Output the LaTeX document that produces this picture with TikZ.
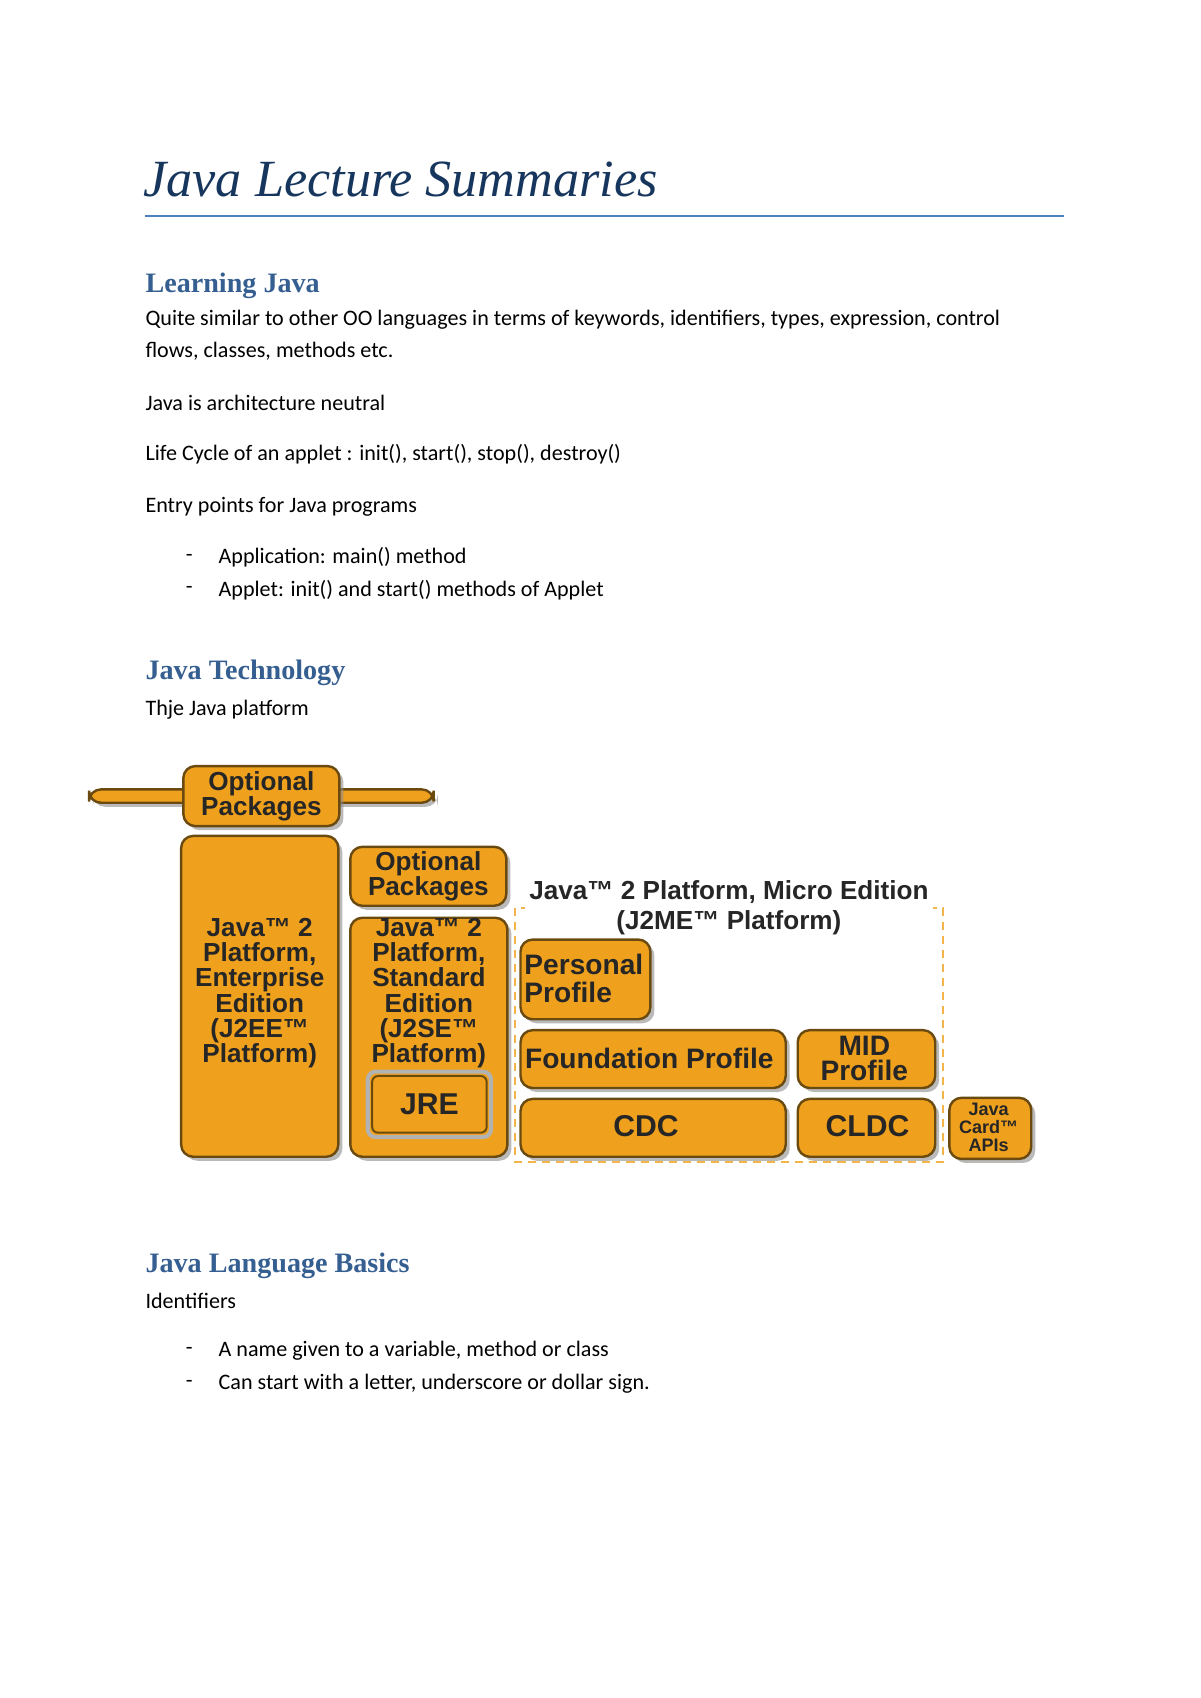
\documentclass[tikz,border=0pt]{standalone}
\usepackage{fontspec}
\setmainfont{Carlito}
\newfontfamily\headf{Liberation Serif}
\newfontfamily\diaf{Liberation Sans}
\usetikzlibrary{shadows}
\definecolor{titleblue}{HTML}{17365D}
\definecolor{headblue}{HTML}{365F91}
\definecolor{ruleblue}{HTML}{4F81BD}
\definecolor{jorange}{HTML}{EFA11E}
\definecolor{jborder}{HTML}{6B4A10}
\tikzset{
 body/.style={anchor=west,inner sep=0pt,font=\fontsize{11}{13}\selectfont},
 head/.style={anchor=west,inner sep=0pt,font=\headf\bfseries\fontsize{14}{16}\selectfont,text=headblue},
 jbox/.style={draw=jborder,line width=1.2pt,fill=jorange,rounded corners=6pt,
   drop shadow={shadow xshift=2pt,shadow yshift=-2pt,fill=black!45,opacity=0.6},
   font=\diaf\bfseries\fontsize{13}{12.5}\selectfont,align=center,text=black!85}
}
\begin{document}
\begin{tikzpicture}[x=0.019091cm,y=-0.019091cm]
\useasboundingbox (0,0) rectangle (1100,1556);
\fill[white] (0,0) rectangle (1100,1556);
\node[anchor=base west,inner sep=0pt,font=\headf\itshape\fontsize{26}{30}\selectfont,text=titleblue] (title) at (131,180) {Java Lecture Summaries};
\draw[ruleblue,line width=1pt] (133,198) -- (975,198);
\node[head] (h1) at (133,262) {Learning Java};
\node[body] (t1) at (133,293) {Quite similar to other OO languages in terms of keywords, identifiers, types, expression, control};
\node[body] (t2) at (133,322) {flows, classes, methods etc.};
\node[body] (t3) at (133,369) {Java is architecture neutral};
\node[body] (t4) at (133,416) {Life Cycle of an applet : init(), start(), stop(), destroy()};
\node[body] (t5) at (133,464) {Entry points for Java programs};
\node[body] (d1) at (170,511) {-};
\node[body] (t6) at (200,511) {Application: main() method};
\node[body] (d2) at (170,541) {-};
\node[body] (t7) at (200,541) {Applet: init() and start() methods of Applet};
\node[head] (h2) at (133,617) {Java Technology};
\node[body] (t8) at (133,650) {Thje Java platform};
\node[head] (h3) at (133,1160) {Java Language Basics};
\node[body] (t9) at (133,1192) {Identifiers};
\node[body] (d3) at (170,1238) {-};
\node[body] (t10) at (200,1238) {A name given to a variable, method or class};
\node[body] (d4) at (170,1268) {-};
\node[body] (t11) at (200,1268) {Can start with a letter, underscore or dollar sign.};
% diagram
\draw[jorange!80,dashed,line width=1pt,dash pattern=on 4pt off 3pt] (472,832) rectangle (864,1065);
\node[fill=white,inner sep=2pt,font=\diaf\bfseries\fontsize{13}{15}\selectfont,align=center,text=black!85] (me) at (668,832) {Java™ 2 Platform, Micro Edition\\(J2ME™ Platform)};
\node[jbox,minimum width=143\pgflinewidth] (op1) at (239.5,729.5) {};
\path[jbox] (168,702) rectangle (311,757);
\node[font=\diaf\bfseries\fontsize{13}{12.5}\selectfont,align=center,text=black!85] (op1t) at (239.5,729.5) {Optional\\Packages};
\path[jbox] (166,766) rectangle (310,1060);
\node[font=\diaf\bfseries\fontsize{13}{12.5}\selectfont,align=center,text=black!85] (ee) at (238,910) {Java™ 2\\Platform,\\Enterprise\\Edition\\(J2EE™\\Platform)};
\path[jbox] (321,776) rectangle (464,830);
\node[font=\diaf\bfseries\fontsize{13}{12.5}\selectfont,align=center,text=black!85] (op2) at (392.5,803) {Optional\\Packages};
\path[jbox] (321,841) rectangle (465,1060);
\node[font=\diaf\bfseries\fontsize{13}{12.5}\selectfont,align=center,text=black!85] (se) at (393,910) {Java™ 2\\Platform,\\Standard\\Edition\\(J2SE™\\Platform)};
\path[draw=gray!60,line width=2pt,fill=jorange,rounded corners=4pt] (337,982) rectangle (450,1042);
\path[draw=jborder,line width=1pt,rounded corners=3pt] (341,986) rectangle (446,1038);
\node[font=\diaf\bfseries\fontsize{15}{15}\selectfont,text=black!85] (jre) at (393.5,1012) {JRE};
\path[jbox] (477,861) rectangle (596,934);
\node[font=\diaf\bfseries\fontsize{14}{14}\selectfont,align=left,text=black!85] (pp) at (535,897) {Personal\\Profile};
\path[jbox] (477,944) rectangle (720,997);
\node[font=\diaf\bfseries\fontsize{14}{14}\selectfont,text=black!85] (fp) at (595,970) {Foundation Profile};
\path[jbox] (731,944) rectangle (857,997);
\node[font=\diaf\bfseries\fontsize{14}{12.5}\selectfont,align=center,text=black!85] (mid) at (792,970) {MID\\Profile};
\path[jbox] (477,1007) rectangle (720,1060);
\node[font=\diaf\bfseries\fontsize{15}{15}\selectfont,text=black!85] (cdc) at (592,1032) {CDC};
\path[jbox] (731,1007) rectangle (857,1060);
\node[font=\diaf\bfseries\fontsize{15}{15}\selectfont,text=black!85] (cldc) at (795,1032) {CLDC};
\path[jbox] (870,1006) rectangle (945,1062);
\node[font=\diaf\bfseries\fontsize{9}{9}\selectfont,align=center,text=black!85] (jc) at (906,1033) {Java\\Card™\\APIs};
\end{tikzpicture}
\end{document}
